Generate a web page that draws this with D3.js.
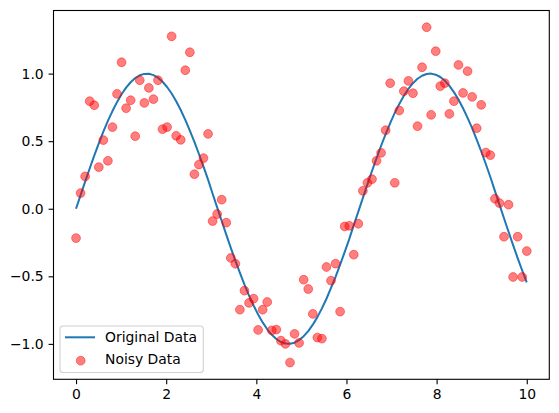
<!DOCTYPE html>
<html>
<head>
<meta charset="utf-8">
<script src="https://cdn.jsdelivr.net/npm/d3@7"></script>
<style>
  body { margin: 0; background: #fff; }
  svg { display: block; font-family: "DejaVu Sans", sans-serif; }
</style>
</head>
<body>
<div id="chart"></div>
<script>
// x positions: 100 evenly spaced samples from 0 to 10
var xValues = [0.000, 0.101, 0.202, 0.303, 0.404, 0.505, 0.606, 0.707, 0.808, 0.909,
    1.010, 1.111, 1.212, 1.313, 1.414, 1.515, 1.616, 1.717, 1.818, 1.919,
    2.020, 2.121, 2.222, 2.323, 2.424, 2.525, 2.626, 2.727, 2.828, 2.929,
    3.030, 3.131, 3.232, 3.333, 3.434, 3.535, 3.636, 3.737, 3.838, 3.939,
    4.040, 4.141, 4.242, 4.343, 4.444, 4.545, 4.646, 4.747, 4.848, 4.949,
    5.051, 5.152, 5.253, 5.354, 5.455, 5.556, 5.657, 5.758, 5.859, 5.960,
    6.061, 6.162, 6.263, 6.364, 6.465, 6.566, 6.667, 6.768, 6.869, 6.970,
    7.071, 7.172, 7.273, 7.374, 7.475, 7.576, 7.677, 7.778, 7.879, 7.980,
    8.081, 8.182, 8.283, 8.384, 8.485, 8.586, 8.687, 8.788, 8.889, 8.990,
    9.091, 9.192, 9.293, 9.394, 9.495, 9.596, 9.697, 9.798, 9.899, 10.000];

// original (clean) series
var originalValues = [0.000, 0.101, 0.201, 0.298, 0.393, 0.484, 0.570, 0.650, 0.723, 0.789,
    0.847, 0.896, 0.936, 0.967, 0.988, 0.998, 0.999, 0.989, 0.970, 0.940,
    0.901, 0.853, 0.796, 0.731, 0.658, 0.578, 0.495, 0.405, 0.312, 0.215,
    0.111, 0.010, -0.091, -0.191, -0.289, -0.384, -0.475, -0.561, -0.642, -0.716,
    -0.783, -0.841, -0.892, -0.933, -0.964, -0.986, -0.998, -0.999, -0.991, -0.972,
    -0.943, -0.905, -0.858, -0.802, -0.737, -0.666, -0.586, -0.504, -0.414, -0.321,
    -0.225, -0.121, -0.021, 0.080, 0.180, 0.279, 0.374, 0.466, 0.553, 0.634,
    0.709, 0.776, 0.836, 0.887, 0.929, 0.962, 0.984, 0.997, 1.000, 0.992,
    0.975, 0.947, 0.909, 0.863, 0.808, 0.744, 0.673, 0.596, 0.512, 0.424,
    0.331, 0.235, 0.132, 0.031, -0.070, -0.170, -0.269, -0.365, -0.457, -0.544];

// noisy series
var noisyValues = [-0.217, 0.116, 0.239, 0.796, 0.766, 0.308, 0.508, 0.355, 0.604, 0.850,
    1.084, 0.744, 0.803, 0.537, 0.951, 0.783, 0.894, 0.811, 0.951, 0.589,
    0.604, 1.276, 0.540, 0.510, 1.025, 1.158, 0.256, 0.327, 0.375, 0.554,
    -0.091, -0.039, 0.067, -0.103, -0.364, -0.407, -0.747, -0.606, -0.697, -0.665,
    -0.897, -0.747, -0.690, -0.900, -0.894, -0.976, -1.000, -1.138, -0.926, -0.993,
    -0.525, -0.594, -0.778, -0.953, -0.961, -0.431, -0.532, -0.406, -0.761, -0.131,
    -0.126, -0.340, -0.111, 0.133, 0.192, 0.219, 0.355, 0.414, 0.581, 0.929,
    0.192, 0.727, 0.870, 0.946, 0.855, 0.611, 1.047, 1.343, 0.695, 1.166,
    0.907, 0.929, 0.702, 0.796, 1.064, 0.857, 1.018, 0.828, 0.596, 0.769,
    0.416, 0.397, 0.074, 0.042, -0.207, 0.030, -0.505, -0.207, -0.505, -0.313];

var xTicks = [0, 2, 4, 6, 8, 10];
var yTicks = [-1.0, -0.5, 0.0, 0.5, 1.0];
var seriesNames = ["Original Data", "Noisy Data"];

var W = 559, H = 413;
var margin = {top: 10.5, right: 9.7, bottom: 33.7, left: 53.5};
var width = W - margin.left - margin.right;
var height = H - margin.top - margin.bottom;
var fontSize = "13.9px";

var svg = d3.select("#chart").append("svg")
    .attr("width", W)
    .attr("height", H)
    .append("g")
    .attr("transform", "translate(" + margin.left + "," + margin.top + ")");

// matplotlib style 5% padding on the data range
function padded(ext) {
    var p = (ext[1] - ext[0]) * 0.05;
    return [ext[0] - p, ext[1] + p];
}

var x = d3.scaleLinear()
    .domain(padded(d3.extent(xValues)))
    .range([0, width]);

var allY = originalValues.concat(noisyValues);
var y = d3.scaleLinear()
    .domain(padded(d3.extent(allY)))
    .range([height, 0]);

var lineData = xValues.map(function (d, i) { return [d, originalValues[i]]; });
var pointData = xValues.map(function (d, i) { return [d, noisyValues[i]]; });

var blue = "#1f77b4";

// original line
svg.append("path")
    .datum(lineData)
    .attr("fill", "none")
    .attr("stroke", blue)
    .attr("stroke-width", 2)
    .attr("stroke-linejoin", "round")
    .attr("d", d3.line()
        .x(function (d) { return x(d[0]); })
        .y(function (d) { return y(d[1]); }));

// noisy scatter
svg.append("g")
    .selectAll("circle")
    .data(pointData)
    .enter()
    .append("circle")
    .attr("cx", function (d) { return x(d[0]); })
    .attr("cy", function (d) { return y(d[1]); })
    .attr("r", 4.4)
    .attr("fill", "red")
    .attr("fill-opacity", 0.5)
    .attr("stroke", "red")
    .attr("stroke-opacity", 0.5)
    .attr("stroke-width", 0.9);

// axes
var xAxis = svg.append("g")
    .attr("transform", "translate(0," + height + ")")
    .call(d3.axisBottom(x).tickValues(xTicks).tickSizeOuter(0).tickSize(4.9).tickPadding(4.9).tickFormat(d3.format("d")));

var yAxis = svg.append("g")
    .call(d3.axisLeft(y).tickValues(yTicks).tickSizeOuter(0).tickSize(4.9).tickPadding(4.9).tickFormat(d3.format(".1f")));

[xAxis, yAxis].forEach(function (a) {
    a.select(".domain").remove();
    a.selectAll("line").attr("stroke", "#000").attr("stroke-width", 1.1);
    a.selectAll("text").attr("fill", "#000").style("font-size", fontSize)
        .style("font-family", "'DejaVu Sans', sans-serif");
});

// frame
svg.append("rect")
    .attr("width", width)
    .attr("height", height)
    .attr("fill", "none")
    .attr("stroke", "#000")
    .attr("stroke-width", 1.1);

// legend
var legend = svg.append("g")
    .attr("transform", "translate(" + (60 - margin.left) + "," + (326 - margin.top) + ")");

legend.append("rect")
    .attr("width", 143.3)
    .attr("height", 46.5)
    .attr("rx", 3)
    .attr("fill", "#fff")
    .attr("fill-opacity", 0.8)
    .attr("stroke", "#d0d0d0")
    .attr("stroke-width", 1.1);

legend.append("line")
    .attr("x1", 5).attr("x2", 35)
    .attr("y1", 11.3).attr("y2", 11.3)
    .attr("stroke", blue)
    .attr("stroke-width", 2);

legend.append("circle")
    .attr("cx", 20.7).attr("cy", 34.7)
    .attr("r", 4.4)
    .attr("fill", "red")
    .attr("fill-opacity", 0.5)
    .attr("stroke", "red")
    .attr("stroke-opacity", 0.5)
    .attr("stroke-width", 0.9);

legend.selectAll("text.lab")
    .data(seriesNames)
    .enter()
    .append("text")
    .attr("class", "lab")
    .attr("x", 45)
    .attr("y", function (d, i) { return 16.4 + i * 21.6; })
    .style("font-size", fontSize)
    .attr("fill", "#000")
    .text(function (d) { return d; });
</script>
</body>
</html>
